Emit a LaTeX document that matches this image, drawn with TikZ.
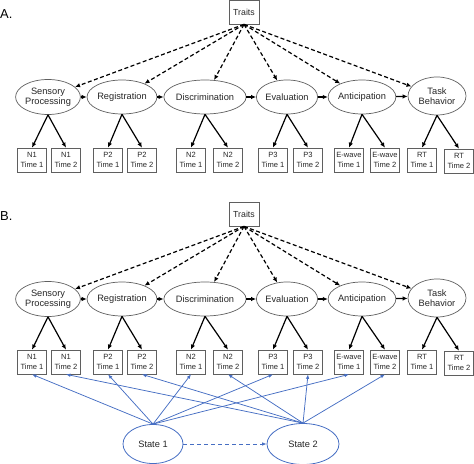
\documentclass[tikz,border=0pt]{standalone}
\usepackage{fontspec}
\setmainfont{Liberation Sans}
\usetikzlibrary{arrows.meta,shapes.geometric}
\definecolor{edgegray}{RGB}{95,95,95}
\definecolor{stateblue}{RGB}{70,110,195}
\tikzset{
  lat/.style={ellipse,draw=edgegray,line width=0.7bp,inner sep=0pt,align=center,font=\fontsize{9.3}{10.5}\selectfont,text=black!85},
  obs/.style={rectangle,draw=edgegray,line width=0.7bp,inner sep=0pt,minimum width=29bp,minimum height=24bp,align=center,font=\fontsize{7.6}{9.5}\selectfont,text=black!85},
  trbox/.style={rectangle,draw=edgegray,line width=0.8bp,inner sep=0pt,minimum width=30bp,minimum height=24bp,font=\fontsize{8.8}{10}\selectfont,text=black!85},
  solidarr/.style={line width=1.2bp,-{Latex[length=5bp,width=4.5bp]}},
  dasharr/.style={line width=1.2bp,dash pattern=on 4bp off 2.5bp,-{Latex[length=5bp,width=4.5bp]}},
  bluearr/.style={stateblue,line width=0.75bp,-{Latex[length=4.5bp,width=3.5bp]}},
  bluedash/.style={stateblue,line width=0.75bp,dash pattern=on 4bp off 3bp,-{Latex[length=4.5bp,width=3.5bp]}},
  statenode/.style={ellipse,draw=stateblue,line width=0.8bp,inner sep=0pt,font=\fontsize{9.3}{10.5}\selectfont,text=black!85},
  panlab/.style={anchor=west,inner sep=0pt,font=\fontsize{13}{14}\selectfont}
}
\begin{document}
\begin{tikzpicture}[x=1bp,y=-1bp]
\useasboundingbox (0,0) rectangle (474,464);
\foreach \p/\dy/\lab in {a/0/A.,b/202/B.}{
\begin{scope}[shift={(0,\dy)}]
  \node[panlab] (\p-lab) at (0,14) {\lab};
  \node[trbox] (\p-tr) at (244,12) {Traits};
  \node[lat,minimum width=58bp,minimum height=35bp] (\p-sp) at (48,97) {Sensory\\Processing};
  \node[lat,minimum width=60bp,minimum height=34bp] (\p-reg) at (122,97) {Registration};
  \node[lat,minimum width=70bp,minimum height=34bp] (\p-dis) at (205,97) {Discrimination};
  \node[lat,minimum width=54bp,minimum height=34bp] (\p-eva) at (287,97) {Evaluation};
  \node[lat,minimum width=58bp,minimum height=34bp] (\p-ant) at (362,97) {Anticipation};
  \node[lat,minimum width=58bp,minimum height=38bp] (\p-task) at (437,96) {Task\\Behavior};
  \node[obs] (\p-n1a) at (32,160) {N1\\Time 1};
  \node[obs] (\p-n1b) at (66,160) {N1\\Time 2};
  \node[obs] (\p-p2a) at (108,160) {P2\\Time 1};
  \node[obs] (\p-p2b) at (142,160) {P2\\Time 2};
  \node[obs] (\p-n2a) at (191,160) {N2\\Time 1};
  \node[obs] (\p-n2b) at (228,160) {N2\\Time 2};
  \node[obs] (\p-p3a) at (273,160) {P3\\Time 1};
  \node[obs] (\p-p3b) at (308,160) {P3\\Time 2};
  \node[obs] (\p-ewa) at (349,160) {E-wave\\Time 1};
  \node[obs] (\p-ewb) at (385,160) {E-wave\\Time 2};
  \node[obs] (\p-rta) at (422,160) {RT\\Time 1};
  \node[obs] (\p-rtb) at (459,161) {RT\\Time 2};
  \foreach \e in {sp,reg,dis,eva,ant,task}{
    \draw[dasharr] (\p-tr.south) -- (\p-\e);
  }
  \draw[solidarr] (\p-sp) -- (\p-reg);
  \draw[solidarr] (\p-reg) -- (\p-dis);
  \draw[solidarr] (\p-dis) -- (\p-eva);
  \draw[solidarr] (\p-eva) -- (\p-ant);
  \draw[solidarr] (\p-ant) -- (\p-task);
  \foreach \e/\x/\y in {sp/n1a/n1b,reg/p2a/p2b,dis/n2a/n2b,eva/p3a/p3b,ant/ewa/ewb,task/rta/rtb}{
    \draw[solidarr] (\p-\e.south) -- (\p-\x.north);
    \draw[solidarr] (\p-\e.south) -- (\p-\y.north);
  }
\end{scope}
}
\node[statenode,minimum width=60bp,minimum height=39bp] (s1) at (153,444) {State 1};
\node[statenode,minimum width=72bp,minimum height=41bp] (s2) at (303,444) {State 2};
\foreach \x in {n1a,p2a,n2a,p3a,ewa}{
  \draw[bluearr] (s1.north) -- (b-\x.south);
}
\foreach \x in {n1b,p2b,n2b,p3b,ewb}{
  \draw[bluearr] (s2.north) -- (b-\x.south);
}
\draw[bluedash] (s1) -- (s2);
\end{tikzpicture}
\end{document}
